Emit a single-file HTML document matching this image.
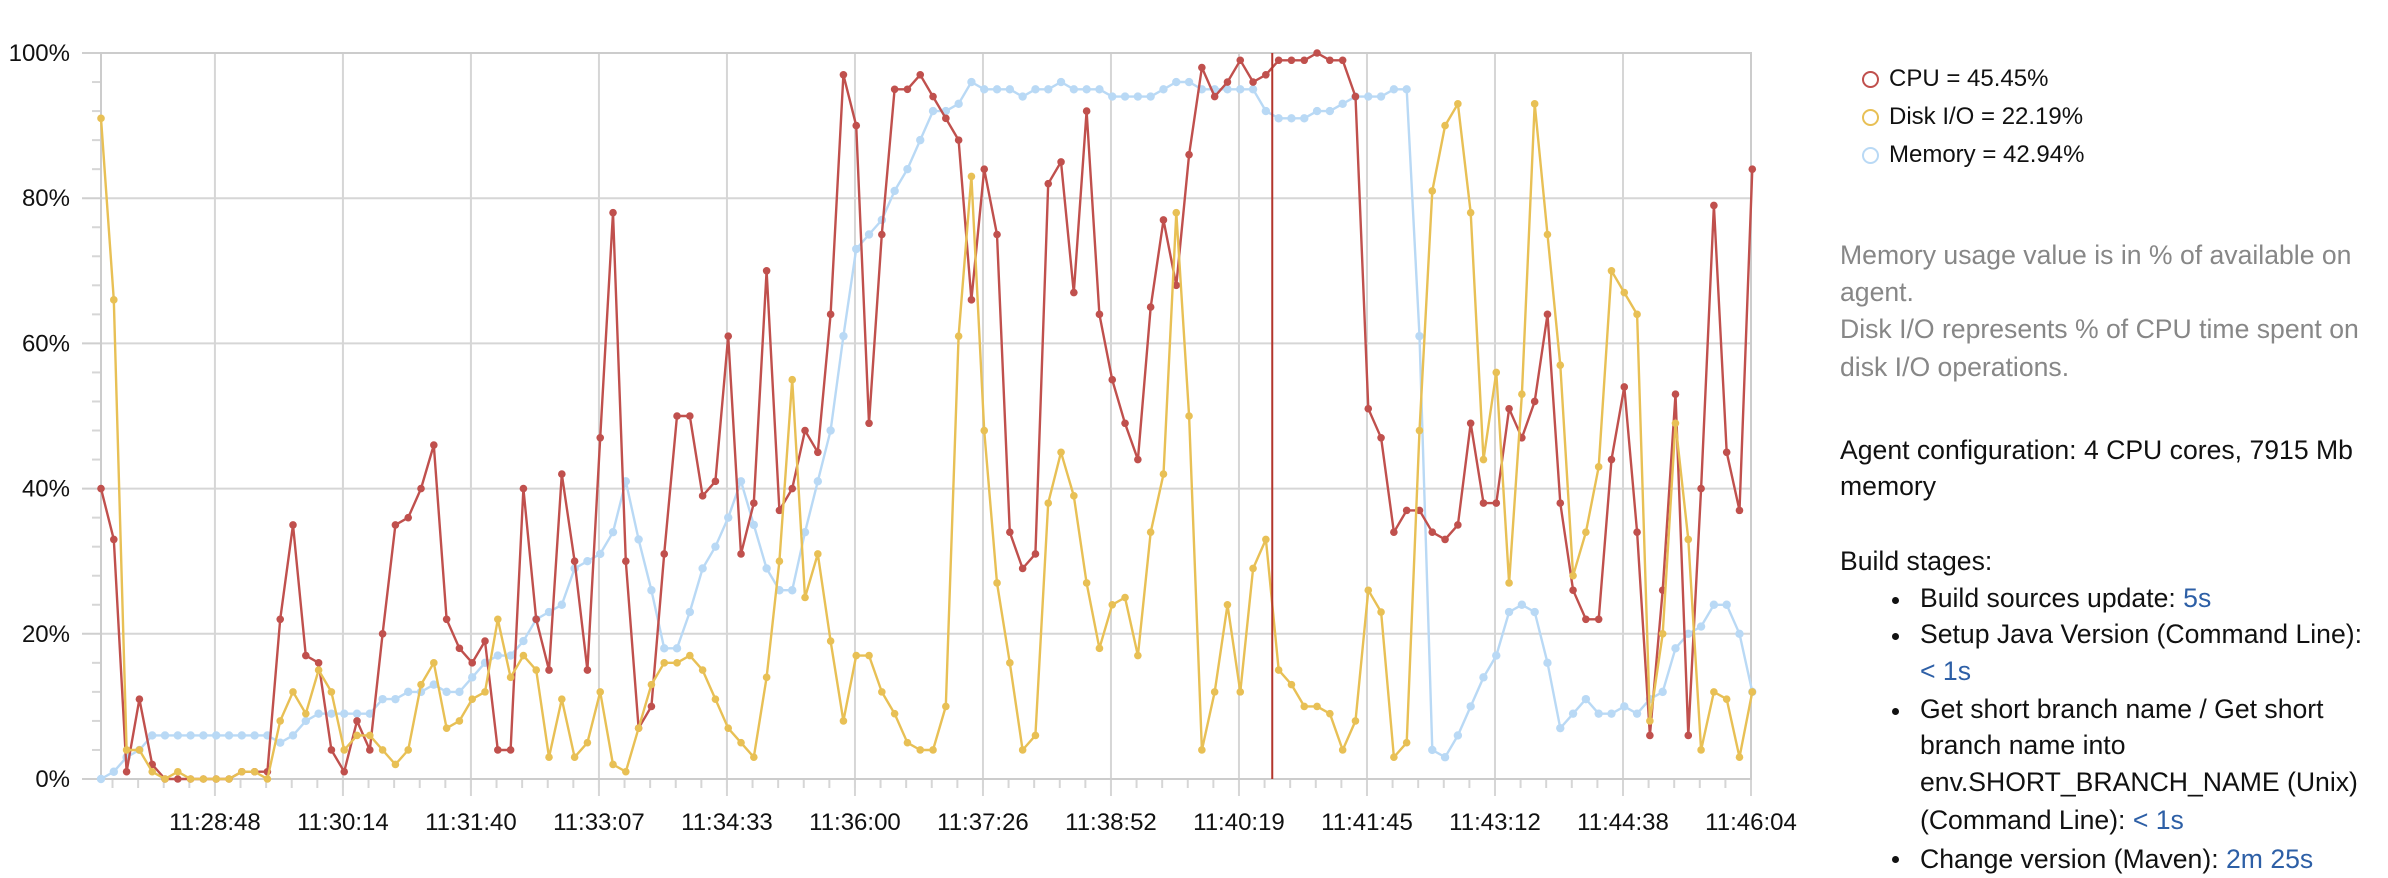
<!DOCTYPE html>
<html><head><meta charset="utf-8">
<style>
body{margin:0;width:2388px;height:860px;background:#fff;overflow:hidden;font-family:"Liberation Sans",sans-serif;position:relative}
.t{position:absolute;white-space:nowrap;font-size:26.6px;line-height:37px;color:#111}
.lg{font-size:24px}
.g{color:#878787}
.b{color:#2d5fa6}
.dot{position:absolute;width:7px;height:7px;border-radius:50%;background:#111}
.lc{position:absolute;width:17px;height:17px;border-radius:50%;border:2.5px solid;box-sizing:border-box}
</style></head>
<body>
<svg id="chart" width="1800" height="860" style="position:absolute;left:0;top:0" xmlns="http://www.w3.org/2000/svg"></svg>

<div>
<div><div class="lc" style="left:1862px;top:71px;border-color:#c0504d"></div><div class="t lg" style="left:1889px;top:60px">CPU = 45.45%</div></div>
<div><div class="lc" style="left:1862px;top:109px;border-color:#e8c055"></div><div class="t lg" style="left:1889px;top:98px">Disk I/O = 22.19%</div></div>
<div><div class="lc" style="left:1862px;top:147px;border-color:#b9d9f5"></div><div class="t lg" style="left:1889px;top:136px">Memory = 42.94%</div></div>
</div>
<div>
<div class="t g" style="left:1840px;top:237px">Memory usage value is in % of available on</div>
<div class="t g" style="left:1840px;top:274px">agent.</div>
<div class="t g" style="left:1840px;top:311px">Disk I/O represents % of CPU time spent on</div>
<div class="t g" style="left:1840px;top:349px">disk I/O operations.</div>
</div>
<div>
<div class="t" style="left:1840px;top:432px">Agent configuration: 4 CPU cores, 7915 Mb</div>
<div class="t" style="left:1840px;top:468px">memory</div>
</div>
<div>
<div class="t" style="left:1840px;top:543px">Build stages:</div>
<div class="dot" style="left:1892px;top:597px"></div>
<div class="t" style="left:1920px;top:580px">Build sources update: <span class="b">5s</span></div>
<div class="dot" style="left:1892px;top:633px"></div>
<div class="t" style="left:1920px;top:616px">Setup Java Version (Command Line):</div>
<div class="t b" style="left:1920px;top:653px">&lt; 1s</div>
<div class="dot" style="left:1892px;top:708px"></div>
<div class="t" style="left:1920px;top:691px">Get short branch name / Get short</div>
<div class="t" style="left:1920px;top:727px">branch name into</div>
<div class="t" style="left:1920px;top:764px">env.SHORT_BRANCH_NAME (Unix)</div>
<div class="t" style="left:1920px;top:802px">(Command Line): <span class="b">&lt; 1s</span></div>
<div class="dot" style="left:1892px;top:856px"></div>
<div class="t" style="left:1920px;top:841px">Change version (Maven): <span class="b">2m 25s</span></div>
</div>

<script>
const xLabels=["11:28:48","11:30:14","11:31:40","11:33:07","11:34:33","11:36:00","11:37:26","11:38:52","11:40:19","11:41:45","11:43:12","11:44:38","11:46:04"];
const yTicks=[0,20,40,60,80,100];
const cpu=[40,33,1,11,2,0,0,0,0,0,0,1,1,1,22,35,17,16,4,1,8,4,20,35,36,40,46,22,18,16,19,4,4,40,22,15,42,30,15,
47,78,30,7,10,31,50,50,39,41,61,31,38,70,37,40,48,45,64,97,90,49,75,95,95,97,94,91,88,66,84,75,
34,29,31,82,85,67,92,64,55,49,44,65,77,68,86,98,94,96,99,96,97,99,99,99,100,99,99,94,51,47,34,37,
37,34,33,35,49,38,38,51,47,52,64,38,26,22,22,44,54,34,6,26,53,6,40,79,45,37,84];
const disk=[91,66,4,4,1,0,1,0,0,0,0,1,1,0,8,12,9,15,12,4,6,6,4,2,4,13,16,7,8,11,12,22,14,17,15,3,11,3,5,
12,2,1,7,13,16,16,17,15,11,7,5,3,14,30,55,25,31,19,8,17,17,12,9,5,4,4,10,61,83,48,27,
16,4,6,38,45,39,27,18,24,25,17,34,42,78,50,4,12,24,12,29,33,15,13,10,10,9,4,8,26,23,3,5,
48,81,90,93,78,44,56,27,53,93,75,57,28,34,43,70,67,64,8,20,49,33,4,12,11,3,12];
const memory=[0,1,3,4,6,6,6,6,6,6,6,6,6,6,5,6,8,9,9,9,9,9,11,11,12,12,13,12,12,14,16,17,17,19,22,23,24,29,30,
31,34,41,33,26,18,18,23,29,32,36,41,35,29,26,26,34,41,48,61,73,75,77,81,84,88,92,92,93,96,95,95,
95,94,95,95,96,95,95,95,94,94,94,94,95,96,96,95,95,95,95,95,92,91,91,91,92,92,93,94,94,94,95,95,
61,4,3,6,10,14,17,23,24,23,16,7,9,11,9,9,10,9,11,12,18,20,21,24,24,20,12];
const cursorIndex=91.5;

const NS="http://www.w3.org/2000/svg";
const svg=document.getElementById('chart');
const L=101,R=1751,T=53,B=779;
const firstTickIdx=8.9, tickStep=10, idxMax=128.9;
function xs(i){return L+(R-L)*i/idxMax;}
function ys(v){return B-(B-T)*v/100;}
function mk(tag,attrs,parent){const e=document.createElementNS(NS,tag);for(const k in attrs)e.setAttribute(k,attrs[k]);(parent||svg).appendChild(e);return e;}

yTicks.forEach(v=>{
  const y=ys(v);
  const gl=mk('line',{x1:L,x2:R,y1:y,y2:y,stroke:'#d6d6d6','stroke-width':2});
  
  
  mk('line',{x1:L-19,x2:L,y1:y,y2:y,stroke:'#cfcfcf','stroke-width':2});
  const t=mk('text',{x:70,y:y+8,'text-anchor':'end','font-size':24,'font-family':'Liberation Sans, sans-serif',fill:'#111'});
  t.textContent=v+'%';
  
  
});
for(let v=4;v<100;v+=4){ if(v%20===0)continue; const y=ys(v); mk('line',{x1:L-9,x2:L,y1:y,y2:y,stroke:'#d6d6d6','stroke-width':2}); }
xLabels.forEach((lab,k)=>{
  const x=xs(firstTickIdx+k*tickStep);
  const gl=mk('line',{x1:x,x2:x,y1:T,y2:B+17,stroke:'#d6d6d6','stroke-width':2});
  
  
  const t=mk('text',{x:x,y:830,'text-anchor':'middle','font-size':24,'font-family':'Liberation Sans, sans-serif',fill:'#111'});
  t.textContent=lab;
  
  
});
for(let i=firstTickIdx-tickStep;i<=idxMax;i+=tickStep/5){ if(i<0)continue; const x=xs(i); mk('line',{x1:x,x2:x,y1:B,y2:B+9,stroke:'#d6d6d6','stroke-width':2}); }
const fr=mk('rect',{x:L,y:T,width:R-L,height:B-T,fill:'none',stroke:'#cccccc','stroke-width':2});



function series(arr,color,name,r){
  const g=mk('g',{});
  
  
  const pts=arr.map((v,i)=>xs(i).toFixed(1)+','+ys(v).toFixed(1)).join(' ');
  const pl=mk('polyline',{points:pts,fill:'none',stroke:color,'stroke-width':2.4,'stroke-linejoin':'round'},g);
  
  
  arr.forEach((v,i)=>{
    const c=mk('circle',{cx:xs(i),cy:ys(v),r:r,fill:color},g);
    
    
  });
}
series(memory,'#b9d9f5','memory-series',4.2);
series(cpu,'#c0504d','cpu-series',3.8);
series(disk,'#e8c055','disk-series',3.8);

const cx=xs(cursorIndex);
const cl=mk('line',{x1:cx,x2:cx,y1:T,y2:B,stroke:'#b3352c','stroke-width':2});


</script>
</body></html>
